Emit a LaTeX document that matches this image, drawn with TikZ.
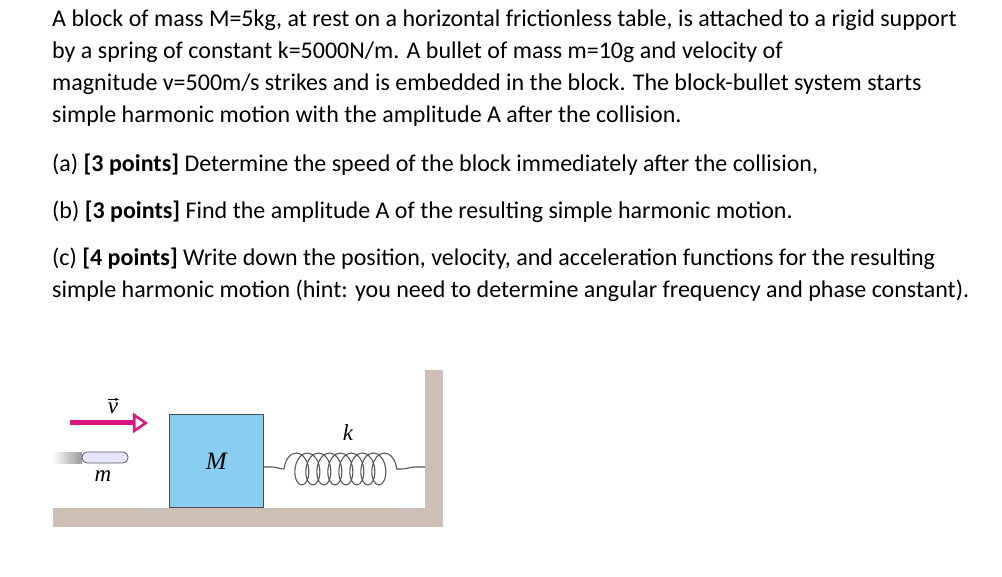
\documentclass[tikz,border=0pt]{standalone}
\usepackage{fontspec}
\setmainfont{Carlito}
\newfontfamily\serifit{Liberation Serif}
\usetikzlibrary{decorations.pathmorphing,arrows.meta}
\definecolor{floorc}{RGB}{205,190,182}
\definecolor{blockc}{RGB}{135,206,240}
\definecolor{arrc}{RGB}{220,20,130}
\tikzset{txt/.style={anchor=west,inner sep=0pt,font=\fontsize{24}{26}\selectfont},
lab/.style={inner sep=0pt,font=\fontsize{23}{24}\selectfont\serifit\itshape}}
\begin{document}
\begin{tikzpicture}[x=1pt,y=-1pt]
\useasboundingbox (0,0) rectangle (1002,577);
\node[txt] (l1) at (52,20) {A block of mass M=5kg, at rest on a horizontal frictionless table, is attached to a rigid support};
\node[txt] (l2) at (52,52) {by a spring of constant k=5000N/m. A bullet of mass m=10g and velocity of};
\node[txt] (l3) at (52,84) {magnitude v=500m/s strikes and is embedded in the block. The block-bullet system starts};
\node[txt] (l4) at (52,116) {simple harmonic motion with the amplitude A after the collision.};
\node[txt] (a) at (52,165) {(a) \textbf{[3 points]} Determine the speed of the block immediately after the collision,};
\node[txt] (b) at (52,212) {(b) \textbf{[3 points]} Find the amplitude A of the resulting simple harmonic motion.};
\node[txt] (c1) at (52,259) {(c) \textbf{[4 points]} Write down the position, velocity, and acceleration functions for the resulting};
\node[txt] (c2) at (52,291) {simple harmonic motion (hint: you need to determine angular frequency and phase constant).};
% floor and wall
\fill[floorc] (53,508) rectangle (443,527);
\fill[floorc] (425,370) rectangle (443,527);
% block
\node[draw=black!70,fill=blockc,minimum width=94pt,minimum height=93pt,anchor=south west,inner sep=0pt,line width=0.8pt] (M) at (169,508) {};
\node[lab,font=\fontsize{25}{24}\selectfont\serifit\itshape] at (M) {M};
\coordinate (w) at (425,467);
\draw[black!65,line width=1.1pt] (M.east |- w) -- (272,467) to[out=0,in=180] (284,469)
 decorate[decoration={coil,amplitude=16pt,segment length=11pt,aspect=0.6}]{-- (402,469)} to[out=0,in=180] (415,467) -- (w);
\node[lab] (k) at (348,433) {k};
% arrow
\draw[arrc,line width=5pt,-{Triangle[open,length=15pt,width=20pt,line width=2.5pt]}] (70,423) -- (148,423);
\node[lab] (v) at (113,408) {v};
\draw[line width=0.8pt,-{Stealth[length=4pt]}] ([xshift=-5pt,yshift=3pt]v.north) -- ([xshift=6pt,yshift=3pt]v.north);
% bullet
\shade[left color=white,right color=gray!80] (52,452) rectangle (82,463);
\draw[gray!70!black,fill=blue!10,line width=0.8pt,rounded corners=5pt] (82,452) -- (128,452) -- (128,463) -- (82,463) -- cycle;
\node[lab] (m) at (103,476) {m};
\end{tikzpicture}
\end{document}
